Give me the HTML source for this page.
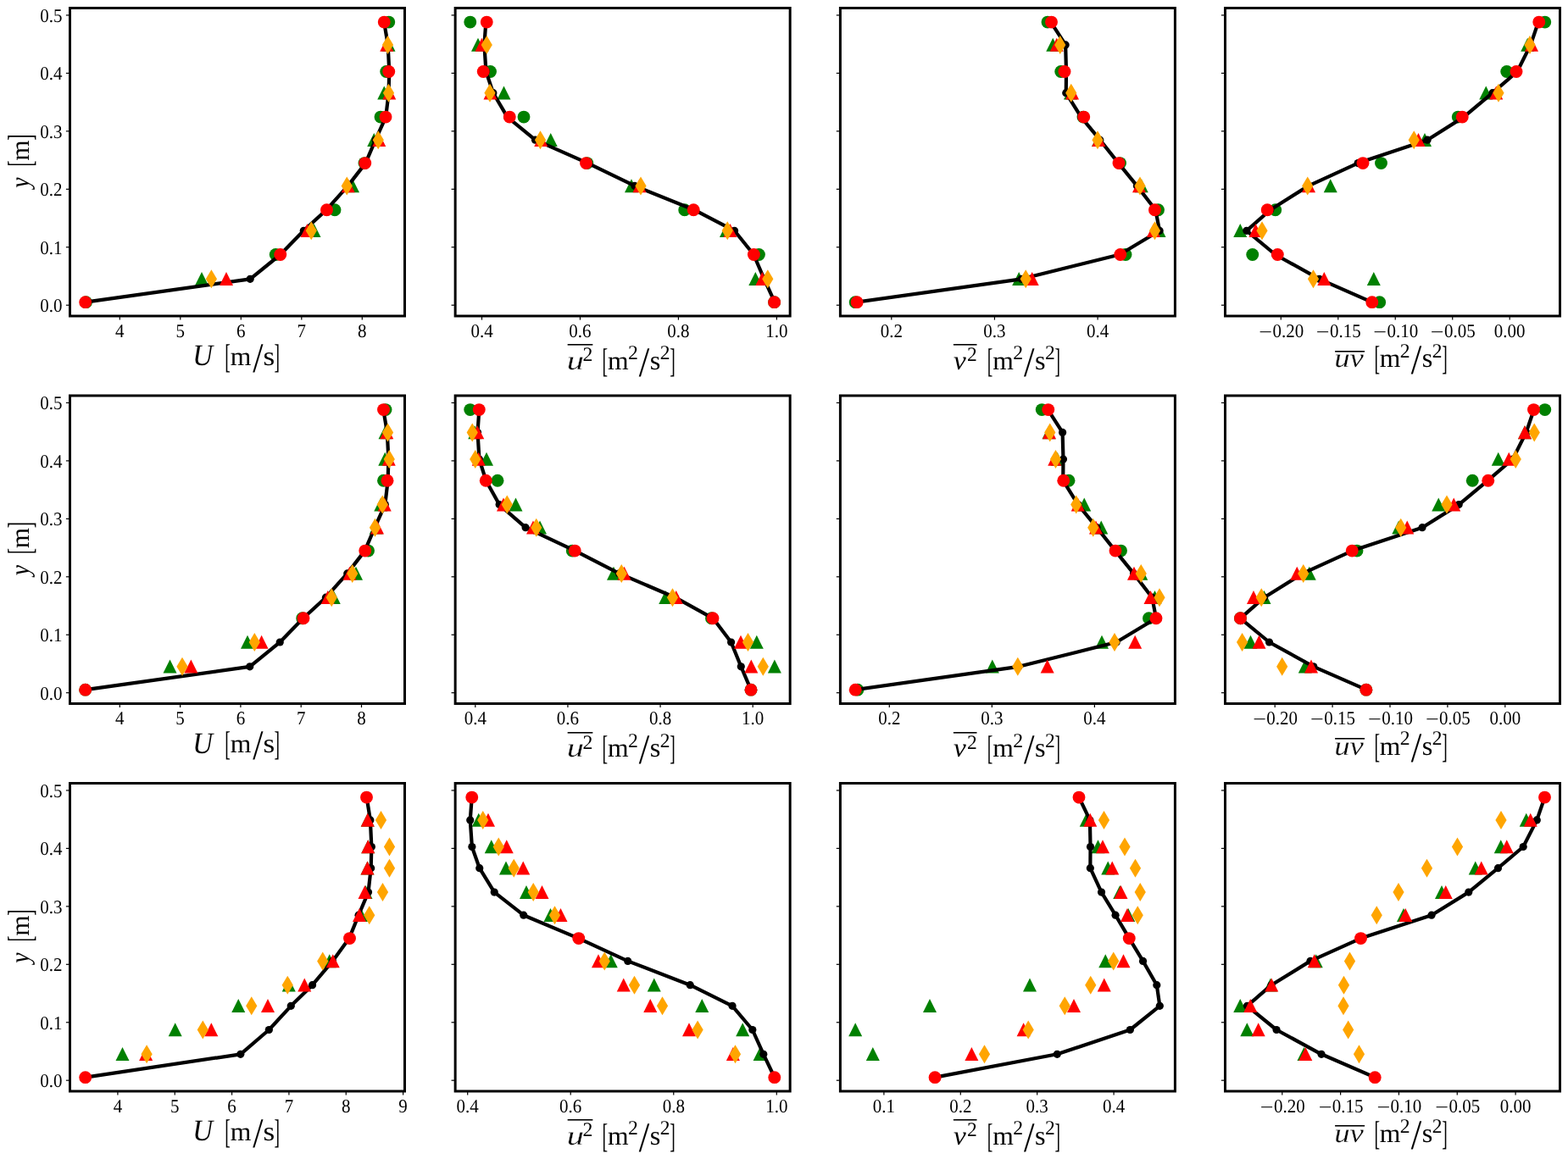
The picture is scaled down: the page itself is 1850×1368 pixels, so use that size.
<!DOCTYPE html>
<html lang="en">
<head>
<meta charset="utf-8">
<title>Profiles</title>
<style>
html,body{margin:0;padding:0;background:#fff;}
body{width:1850px;height:1368px;overflow:hidden;}
svg{display:block;}
text{font-family:"Liberation Serif","DejaVu Serif",serif;fill:#000;text-rendering:geometricPrecision;}
.tl{font-size:21px;}
.it{font-style:italic;}
.tk{stroke:#000;stroke-width:1.2;}
.ov{stroke:#000;stroke-width:1.4;}
.ln{fill:none;stroke:#000;stroke-width:4.2;stroke-linejoin:round;stroke-linecap:butt;}
.fr{fill:none;stroke:#000;stroke-width:3;}
</style>
</head>
<body>
<svg width="1850" height="1368" viewBox="0 0 1850 1368">
<rect x="0" y="0" width="1850" height="1368" fill="#fff"/>
<g>
<line x1="141.3" y1="373" x2="141.3" y2="377.6" class="tk"/>
<text transform="translate(141.3 397.7) scale(1 1.075)" class="tl" text-anchor="middle">4</text>
<line x1="212.8" y1="373" x2="212.8" y2="377.6" class="tk"/>
<text transform="translate(212.8 397.7) scale(1 1.075)" class="tl" text-anchor="middle">5</text>
<line x1="284.3" y1="373" x2="284.3" y2="377.6" class="tk"/>
<text transform="translate(284.3 397.7) scale(1 1.075)" class="tl" text-anchor="middle">6</text>
<line x1="355.8" y1="373" x2="355.8" y2="377.6" class="tk"/>
<text transform="translate(355.8 397.7) scale(1 1.075)" class="tl" text-anchor="middle">7</text>
<line x1="427.3" y1="373" x2="427.3" y2="377.6" class="tk"/>
<text transform="translate(427.3 397.7) scale(1 1.075)" class="tl" text-anchor="middle">8</text>
<line x1="77.9" y1="17.95" x2="82.5" y2="17.95" class="tk"/>
<text transform="translate(73.5 25.95) scale(1 1.075)" class="tl" text-anchor="end">0.5</text>
<line x1="77.9" y1="86.4" x2="82.5" y2="86.4" class="tk"/>
<text transform="translate(73.5 94.4) scale(1 1.075)" class="tl" text-anchor="end">0.4</text>
<line x1="77.9" y1="154.85" x2="82.5" y2="154.85" class="tk"/>
<text transform="translate(73.5 162.85) scale(1 1.075)" class="tl" text-anchor="end">0.3</text>
<line x1="77.9" y1="223.3" x2="82.5" y2="223.3" class="tk"/>
<text transform="translate(73.5 231.3) scale(1 1.075)" class="tl" text-anchor="end">0.2</text>
<line x1="77.9" y1="291.75" x2="82.5" y2="291.75" class="tk"/>
<text transform="translate(73.5 299.75) scale(1 1.075)" class="tl" text-anchor="end">0.1</text>
<line x1="77.9" y1="360.2" x2="82.5" y2="360.2" class="tk"/>
<text transform="translate(73.5 368.2) scale(1 1.075)" class="tl" text-anchor="end">0.0</text>
<circle cx="458.75" cy="26.1" r="7.45" fill="#008000"/>
<circle cx="455.75" cy="84.5" r="7.45" fill="#008000"/>
<circle cx="449" cy="138.1" r="7.45" fill="#008000"/>
<circle cx="430" cy="192.6" r="7.45" fill="#008000"/>
<circle cx="395" cy="247.7" r="7.45" fill="#008000"/>
<circle cx="325.25" cy="300.5" r="7.45" fill="#008000"/>
<circle cx="101.5" cy="356.65" r="7.45" fill="#008000"/>
<polygon points="458.5,44.7 450.5,60.7 466.5,60.7" fill="#008000"/>
<polygon points="453.25,101.5 445.25,117.5 461.25,117.5" fill="#008000"/>
<polygon points="441.25,157 433.25,173 449.25,173" fill="#008000"/>
<polygon points="416,211.2 408,227.2 424,227.2" fill="#008000"/>
<polygon points="370.5,264.1 362.5,280.1 378.5,280.1" fill="#008000"/>
<polygon points="238,321.1 230,337.1 246,337.1" fill="#008000"/>
<polyline points="453.18,26.1 457.69,52.9 459.26,84.5 458.55,109.7 455.19,138.1 443.03,165.2 431.23,192.6 410.5,219.4 385.12,247.7 358.3,272.3 330.78,300.5 295.17,329.3 100.76,356.65" class="ln"/>
<circle cx="453.18" cy="26.1" r="4.6" fill="#000"/>
<circle cx="457.69" cy="52.9" r="4.6" fill="#000"/>
<circle cx="459.26" cy="84.5" r="4.6" fill="#000"/>
<circle cx="458.55" cy="109.7" r="4.6" fill="#000"/>
<circle cx="455.19" cy="138.1" r="4.6" fill="#000"/>
<circle cx="443.03" cy="165.2" r="4.6" fill="#000"/>
<circle cx="431.23" cy="192.6" r="4.6" fill="#000"/>
<circle cx="410.5" cy="219.4" r="4.6" fill="#000"/>
<circle cx="385.12" cy="247.7" r="4.6" fill="#000"/>
<circle cx="358.3" cy="272.3" r="4.6" fill="#000"/>
<circle cx="330.78" cy="300.5" r="4.6" fill="#000"/>
<circle cx="295.17" cy="329.3" r="4.6" fill="#000"/>
<circle cx="100.76" cy="356.65" r="4.6" fill="#000"/>
<circle cx="453.25" cy="26.1" r="7.45" fill="#ff0000"/>
<circle cx="458.75" cy="84.5" r="7.45" fill="#ff0000"/>
<circle cx="455" cy="138.1" r="7.45" fill="#ff0000"/>
<circle cx="430.75" cy="192.6" r="7.45" fill="#ff0000"/>
<circle cx="385.5" cy="247.7" r="7.45" fill="#ff0000"/>
<circle cx="330.75" cy="300.5" r="7.45" fill="#ff0000"/>
<circle cx="100.7" cy="356.65" r="7.45" fill="#ff0000"/>
<polygon points="456.25,44.7 448.25,60.7 464.25,60.7" fill="#ff0000"/>
<polygon points="459.25,101.5 451.25,117.5 467.25,117.5" fill="#ff0000"/>
<polygon points="447.25,157 439.25,173 455.25,173" fill="#ff0000"/>
<polygon points="410.75,211.2 402.75,227.2 418.75,227.2" fill="#ff0000"/>
<polygon points="362.5,264.1 354.5,280.1 370.5,280.1" fill="#ff0000"/>
<polygon points="267,321.1 259,337.1 275,337.1" fill="#ff0000"/>
<polygon points="457.5,41.9 464.1,52.9 457.5,63.9 450.9,52.9" fill="#ffa500"/>
<polygon points="458.5,98.7 465.1,109.7 458.5,120.7 451.9,109.7" fill="#ffa500"/>
<polygon points="446.25,154.2 452.85,165.2 446.25,176.2 439.65,165.2" fill="#ffa500"/>
<polygon points="409.25,208.4 415.85,219.4 409.25,230.4 402.65,219.4" fill="#ffa500"/>
<polygon points="367.25,261.3 373.85,272.3 367.25,283.3 360.65,272.3" fill="#ffa500"/>
<polygon points="249.4,318.3 256,329.3 249.4,340.3 242.8,329.3" fill="#ffa500"/>
<rect x="82.5" y="9.5" width="395" height="363.5" class="fr"/>
<g><text transform="translate(227.15 431.24) scale(0.9900 1.0702)" font-size="33.3" class="it">U </text><text transform="translate(265.32 433.78) scale(0.5939 1.2048)" font-size="33.3">[</text><text transform="translate(271.67 430.8) scale(0.9504 0.9328)" font-size="33.3">m</text><text transform="translate(298.2 438.7) scale(1.3202 1.4925)" font-size="33.3">/</text><text transform="translate(310.59 430.88) scale(1.0571 0.9572)" font-size="33.3">s</text><text transform="translate(323.52 433.78) scale(0.5873 1.2048)" font-size="33.3">]</text></g>
<g><text transform="translate(33.8 191.25) rotate(-90) translate(-30.62 0.05) scale(0.8312 0.9565)" font-size="33.3" class="it">y </text><text transform="translate(33.8 191.25) rotate(-90) translate(-5.45 2.98) scale(0.6613 1.2048)" font-size="33.3">[</text><text transform="translate(33.8 191.25) rotate(-90) translate(1.58 0) scale(0.9383 0.9328)" font-size="33.3">m</text><text transform="translate(33.8 191.25) rotate(-90) translate(25.54 2.98) scale(0.6540 1.2048)" font-size="33.3">]</text></g>
</g>
<g>
<line x1="568.5" y1="373" x2="568.5" y2="377.6" class="tk"/>
<text transform="translate(568.5 397.7) scale(1 1.075)" class="tl" text-anchor="middle">0.4</text>
<line x1="684.47" y1="373" x2="684.47" y2="377.6" class="tk"/>
<text transform="translate(684.47 397.7) scale(1 1.075)" class="tl" text-anchor="middle">0.6</text>
<line x1="800.43" y1="373" x2="800.43" y2="377.6" class="tk"/>
<text transform="translate(800.43 397.7) scale(1 1.075)" class="tl" text-anchor="middle">0.8</text>
<line x1="916.4" y1="373" x2="916.4" y2="377.6" class="tk"/>
<text transform="translate(916.4 397.7) scale(1 1.075)" class="tl" text-anchor="middle">1.0</text>
<line x1="532.55" y1="17.95" x2="537.15" y2="17.95" class="tk"/>
<line x1="532.55" y1="86.4" x2="537.15" y2="86.4" class="tk"/>
<line x1="532.55" y1="154.85" x2="537.15" y2="154.85" class="tk"/>
<line x1="532.55" y1="223.3" x2="537.15" y2="223.3" class="tk"/>
<line x1="532.55" y1="291.75" x2="537.15" y2="291.75" class="tk"/>
<line x1="532.55" y1="360.2" x2="537.15" y2="360.2" class="tk"/>
<circle cx="554.75" cy="26.1" r="7.45" fill="#008000"/>
<circle cx="578.5" cy="84.5" r="7.45" fill="#008000"/>
<circle cx="618" cy="138.1" r="7.45" fill="#008000"/>
<circle cx="692.75" cy="192.6" r="7.45" fill="#008000"/>
<circle cx="807.75" cy="247.7" r="7.45" fill="#008000"/>
<circle cx="895.4" cy="300.5" r="7.45" fill="#008000"/>
<circle cx="913.6" cy="356.65" r="7.45" fill="#008000"/>
<polygon points="564,44.7 556,60.7 572,60.7" fill="#008000"/>
<polygon points="594.5,101.5 586.5,117.5 602.5,117.5" fill="#008000"/>
<polygon points="649.75,157 641.75,173 657.75,173" fill="#008000"/>
<polygon points="745,211.2 737,227.2 753,227.2" fill="#008000"/>
<polygon points="857,264.1 849,280.1 865,280.1" fill="#008000"/>
<polygon points="891.3,321.1 883.3,337.1 899.3,337.1" fill="#008000"/>
<polyline points="573.31,26.1 571.4,52.9 573.43,84.5 581.89,109.7 598.59,138.1 631.53,165.2 693.57,192.6 748.89,219.4 819.05,247.7 866.53,272.3 889.21,300.5 901.61,329.3 914.02,356.65" class="ln"/>
<circle cx="573.31" cy="26.1" r="4.6" fill="#000"/>
<circle cx="571.4" cy="52.9" r="4.6" fill="#000"/>
<circle cx="573.43" cy="84.5" r="4.6" fill="#000"/>
<circle cx="581.89" cy="109.7" r="4.6" fill="#000"/>
<circle cx="598.59" cy="138.1" r="4.6" fill="#000"/>
<circle cx="631.53" cy="165.2" r="4.6" fill="#000"/>
<circle cx="693.57" cy="192.6" r="4.6" fill="#000"/>
<circle cx="748.89" cy="219.4" r="4.6" fill="#000"/>
<circle cx="819.05" cy="247.7" r="4.6" fill="#000"/>
<circle cx="866.53" cy="272.3" r="4.6" fill="#000"/>
<circle cx="889.21" cy="300.5" r="4.6" fill="#000"/>
<circle cx="901.61" cy="329.3" r="4.6" fill="#000"/>
<circle cx="914.02" cy="356.65" r="4.6" fill="#000"/>
<circle cx="574.25" cy="26.1" r="7.45" fill="#ff0000"/>
<circle cx="570.25" cy="84.5" r="7.45" fill="#ff0000"/>
<circle cx="601.25" cy="138.1" r="7.45" fill="#ff0000"/>
<circle cx="691.5" cy="192.6" r="7.45" fill="#ff0000"/>
<circle cx="818.25" cy="247.7" r="7.45" fill="#ff0000"/>
<circle cx="889.4" cy="300.5" r="7.45" fill="#ff0000"/>
<circle cx="913.6" cy="356.65" r="7.45" fill="#ff0000"/>
<polygon points="568.5,44.7 560.5,60.7 576.5,60.7" fill="#ff0000"/>
<polygon points="578.5,101.5 570.5,117.5 586.5,117.5" fill="#ff0000"/>
<polygon points="638.25,157 630.25,173 646.25,173" fill="#ff0000"/>
<polygon points="754.5,211.2 746.5,227.2 762.5,227.2" fill="#ff0000"/>
<polygon points="861.5,264.1 853.5,280.1 869.5,280.1" fill="#ff0000"/>
<polygon points="899.3,321.1 891.3,337.1 907.3,337.1" fill="#ff0000"/>
<polygon points="574.25,41.9 580.85,52.9 574.25,63.9 567.65,52.9" fill="#ffa500"/>
<polygon points="578,98.7 584.6,109.7 578,120.7 571.4,109.7" fill="#ffa500"/>
<polygon points="637.5,154.2 644.1,165.2 637.5,176.2 630.9,165.2" fill="#ffa500"/>
<polygon points="756,208.4 762.6,219.4 756,230.4 749.4,219.4" fill="#ffa500"/>
<polygon points="858.25,261.3 864.85,272.3 858.25,283.3 851.65,272.3" fill="#ffa500"/>
<polygon points="905.8,318.3 912.4,329.3 905.8,340.3 899.2,329.3" fill="#ffa500"/>
<rect x="537.15" y="9.5" width="395" height="363.5" class="fr"/>
<rect x="669.65" y="406" width="29.7" height="1.6" fill="#000"/>
<g><text transform="translate(668.73 435.51) scale(1.2158 0.9470)" font-size="33.3" class="it" stroke="#fff" stroke-width="0.3">u</text><text transform="translate(687.48 426.1) scale(0.7132 0.7117)" font-size="33.3">2 </text><text transform="translate(710.57 438.58) scale(0.5939 1.2048)" font-size="33.3">[</text><text transform="translate(716.92 435.6) scale(0.9504 0.9328)" font-size="33.3">m</text><text transform="translate(740.88 424) scale(0.7132 0.7207)" font-size="33.3">2</text><text transform="translate(753.75 443.5) scale(1.3527 1.4925)" font-size="33.3">/</text><text transform="translate(766.86 435.68) scale(0.9706 0.9572)" font-size="33.3">s</text><text transform="translate(778.69 424) scale(0.7057 0.7207)" font-size="33.3">2</text><text transform="translate(790.27 438.58) scale(0.5873 1.2048)" font-size="33.3">]</text></g>
</g>
<g>
<line x1="1051.8" y1="373" x2="1051.8" y2="377.6" class="tk"/>
<text transform="translate(1051.8 397.7) scale(1 1.075)" class="tl" text-anchor="middle">0.2</text>
<line x1="1173.45" y1="373" x2="1173.45" y2="377.6" class="tk"/>
<text transform="translate(1173.45 397.7) scale(1 1.075)" class="tl" text-anchor="middle">0.3</text>
<line x1="1295.1" y1="373" x2="1295.1" y2="377.6" class="tk"/>
<text transform="translate(1295.1 397.7) scale(1 1.075)" class="tl" text-anchor="middle">0.4</text>
<line x1="986.8" y1="17.95" x2="991.4" y2="17.95" class="tk"/>
<line x1="986.8" y1="86.4" x2="991.4" y2="86.4" class="tk"/>
<line x1="986.8" y1="154.85" x2="991.4" y2="154.85" class="tk"/>
<line x1="986.8" y1="223.3" x2="991.4" y2="223.3" class="tk"/>
<line x1="986.8" y1="291.75" x2="991.4" y2="291.75" class="tk"/>
<line x1="986.8" y1="360.2" x2="991.4" y2="360.2" class="tk"/>
<circle cx="1236" cy="26.1" r="7.45" fill="#008000"/>
<circle cx="1251.75" cy="84.5" r="7.45" fill="#008000"/>
<circle cx="1278" cy="138.1" r="7.45" fill="#008000"/>
<circle cx="1321.5" cy="192.6" r="7.45" fill="#008000"/>
<circle cx="1366.5" cy="247.7" r="7.45" fill="#008000"/>
<circle cx="1328" cy="300.5" r="7.45" fill="#008000"/>
<circle cx="1009.2" cy="356.65" r="7.45" fill="#008000"/>
<polygon points="1242.25,44.7 1234.25,60.7 1250.25,60.7" fill="#008000"/>
<polygon points="1263,101.5 1255,117.5 1271,117.5" fill="#008000"/>
<polygon points="1296,157 1288,173 1304,173" fill="#008000"/>
<polygon points="1346.75,211.2 1338.75,227.2 1354.75,227.2" fill="#008000"/>
<polygon points="1367.5,264.1 1359.5,280.1 1375.5,280.1" fill="#008000"/>
<polygon points="1202.2,321.1 1194.2,337.1 1210.2,337.1" fill="#008000"/>
<polyline points="1239.87,26.1 1257.15,52.9 1258,84.5 1257.75,109.7 1275.51,138.1 1297.78,165.2 1319.67,192.6 1341.45,219.4 1363.35,247.7 1368.09,272.3 1321.01,300.5 1205.2,329.3 1011.17,356.65" class="ln"/>
<circle cx="1239.87" cy="26.1" r="4.6" fill="#000"/>
<circle cx="1257.15" cy="52.9" r="4.6" fill="#000"/>
<circle cx="1258" cy="84.5" r="4.6" fill="#000"/>
<circle cx="1257.75" cy="109.7" r="4.6" fill="#000"/>
<circle cx="1275.51" cy="138.1" r="4.6" fill="#000"/>
<circle cx="1297.78" cy="165.2" r="4.6" fill="#000"/>
<circle cx="1319.67" cy="192.6" r="4.6" fill="#000"/>
<circle cx="1341.45" cy="219.4" r="4.6" fill="#000"/>
<circle cx="1363.35" cy="247.7" r="4.6" fill="#000"/>
<circle cx="1368.09" cy="272.3" r="4.6" fill="#000"/>
<circle cx="1321.01" cy="300.5" r="4.6" fill="#000"/>
<circle cx="1205.2" cy="329.3" r="4.6" fill="#000"/>
<circle cx="1011.17" cy="356.65" r="4.6" fill="#000"/>
<circle cx="1240.5" cy="26.1" r="7.45" fill="#ff0000"/>
<circle cx="1256" cy="84.5" r="7.45" fill="#ff0000"/>
<circle cx="1278.75" cy="138.1" r="7.45" fill="#ff0000"/>
<circle cx="1320" cy="192.6" r="7.45" fill="#ff0000"/>
<circle cx="1362.5" cy="247.7" r="7.45" fill="#ff0000"/>
<circle cx="1321.8" cy="300.5" r="7.45" fill="#ff0000"/>
<circle cx="1011.1" cy="356.65" r="7.45" fill="#ff0000"/>
<polygon points="1246.75,44.7 1238.75,60.7 1254.75,60.7" fill="#ff0000"/>
<polygon points="1265,101.5 1257,117.5 1273,117.5" fill="#ff0000"/>
<polygon points="1296.25,157 1288.25,173 1304.25,173" fill="#ff0000"/>
<polygon points="1344,211.2 1336,227.2 1352,227.2" fill="#ff0000"/>
<polygon points="1361,264.1 1353,280.1 1369,280.1" fill="#ff0000"/>
<polygon points="1217.7,321.1 1209.7,337.1 1225.7,337.1" fill="#ff0000"/>
<polygon points="1250.75,41.9 1257.35,52.9 1250.75,63.9 1244.15,52.9" fill="#ffa500"/>
<polygon points="1263.75,98.7 1270.35,109.7 1263.75,120.7 1257.15,109.7" fill="#ffa500"/>
<polygon points="1295,154.2 1301.6,165.2 1295,176.2 1288.4,165.2" fill="#ffa500"/>
<polygon points="1345,208.4 1351.6,219.4 1345,230.4 1338.4,219.4" fill="#ffa500"/>
<polygon points="1362.5,261.3 1369.1,272.3 1362.5,283.3 1355.9,272.3" fill="#ffa500"/>
<polygon points="1210.2,318.3 1216.8,329.3 1210.2,340.3 1203.6,329.3" fill="#ffa500"/>
<rect x="991.4" y="9.5" width="395" height="363.5" class="fr"/>
<rect x="1124.9" y="406" width="27.6" height="1.6" fill="#000"/>
<g><text transform="translate(1125.1 435.58) scale(0.9987 0.9520)" font-size="33.3" class="it">v</text><text transform="translate(1141.04 426.1) scale(0.7057 0.7117)" font-size="33.3">2 </text><text transform="translate(1164.82 438.58) scale(0.5939 1.2048)" font-size="33.3">[</text><text transform="translate(1171.17 435.6) scale(0.9504 0.9328)" font-size="33.3">m</text><text transform="translate(1195.13 424) scale(0.7132 0.7207)" font-size="33.3">2</text><text transform="translate(1208 443.5) scale(1.3527 1.4925)" font-size="33.3">/</text><text transform="translate(1221.11 435.68) scale(0.9706 0.9572)" font-size="33.3">s</text><text transform="translate(1232.94 424) scale(0.7057 0.7207)" font-size="33.3">2</text><text transform="translate(1244.52 438.58) scale(0.5873 1.2048)" font-size="33.3">]</text></g>
</g>
<g>
<line x1="1511.3" y1="373" x2="1511.3" y2="377.6" class="tk"/>
<g><text transform="translate(1485.3 398.86) scale(1.3313 1.0476)" font-size="21">−</text><text transform="translate(1538.2 397.7) scale(1 1.075)" class="tl" text-anchor="end">0.20</text></g>
<line x1="1578.78" y1="373" x2="1578.78" y2="377.6" class="tk"/>
<g><text transform="translate(1552.78 398.86) scale(1.3313 1.0476)" font-size="21">−</text><text transform="translate(1605.68 397.7) scale(1 1.075)" class="tl" text-anchor="end">0.15</text></g>
<line x1="1646.25" y1="373" x2="1646.25" y2="377.6" class="tk"/>
<g><text transform="translate(1620.25 398.86) scale(1.3313 1.0476)" font-size="21">−</text><text transform="translate(1673.15 397.7) scale(1 1.075)" class="tl" text-anchor="end">0.10</text></g>
<line x1="1713.73" y1="373" x2="1713.73" y2="377.6" class="tk"/>
<g><text transform="translate(1687.73 398.86) scale(1.3313 1.0476)" font-size="21">−</text><text transform="translate(1740.63 397.7) scale(1 1.075)" class="tl" text-anchor="end">0.05</text></g>
<line x1="1781.2" y1="373" x2="1781.2" y2="377.6" class="tk"/>
<text transform="translate(1781.2 397.7) scale(1 1.075)" class="tl" text-anchor="middle">0.00</text>
<line x1="1440.9" y1="17.95" x2="1445.5" y2="17.95" class="tk"/>
<line x1="1440.9" y1="86.4" x2="1445.5" y2="86.4" class="tk"/>
<line x1="1440.9" y1="154.85" x2="1445.5" y2="154.85" class="tk"/>
<line x1="1440.9" y1="223.3" x2="1445.5" y2="223.3" class="tk"/>
<line x1="1440.9" y1="291.75" x2="1445.5" y2="291.75" class="tk"/>
<line x1="1440.9" y1="360.2" x2="1445.5" y2="360.2" class="tk"/>
<circle cx="1822.75" cy="26.1" r="7.45" fill="#008000"/>
<circle cx="1777.75" cy="84.5" r="7.45" fill="#008000"/>
<circle cx="1720.25" cy="138.1" r="7.45" fill="#008000"/>
<circle cx="1629.5" cy="192.6" r="7.45" fill="#008000"/>
<circle cx="1504.75" cy="247.7" r="7.45" fill="#008000"/>
<circle cx="1477.75" cy="300.5" r="7.45" fill="#008000"/>
<circle cx="1627.7" cy="356.65" r="7.45" fill="#008000"/>
<polygon points="1802.25,44.7 1794.25,60.7 1810.25,60.7" fill="#008000"/>
<polygon points="1753.25,101.5 1745.25,117.5 1761.25,117.5" fill="#008000"/>
<polygon points="1681,157 1673,173 1689,173" fill="#008000"/>
<polygon points="1569.75,211.2 1561.75,227.2 1577.75,227.2" fill="#008000"/>
<polygon points="1463.25,264.1 1455.25,280.1 1471.25,280.1" fill="#008000"/>
<polygon points="1620.8,321.1 1612.8,337.1 1628.8,337.1" fill="#008000"/>
<polyline points="1814.94,26.1 1805.9,52.9 1790.11,84.5 1760.96,109.7 1726.95,138.1 1684.04,165.2 1602.12,192.6 1543.82,219.4 1498.75,247.7 1470.82,272.3 1504.69,300.5 1556.64,329.3 1618.59,356.65" class="ln"/>
<circle cx="1814.94" cy="26.1" r="4.6" fill="#000"/>
<circle cx="1805.9" cy="52.9" r="4.6" fill="#000"/>
<circle cx="1790.11" cy="84.5" r="4.6" fill="#000"/>
<circle cx="1760.96" cy="109.7" r="4.6" fill="#000"/>
<circle cx="1726.95" cy="138.1" r="4.6" fill="#000"/>
<circle cx="1684.04" cy="165.2" r="4.6" fill="#000"/>
<circle cx="1602.12" cy="192.6" r="4.6" fill="#000"/>
<circle cx="1543.82" cy="219.4" r="4.6" fill="#000"/>
<circle cx="1498.75" cy="247.7" r="4.6" fill="#000"/>
<circle cx="1470.82" cy="272.3" r="4.6" fill="#000"/>
<circle cx="1504.69" cy="300.5" r="4.6" fill="#000"/>
<circle cx="1556.64" cy="329.3" r="4.6" fill="#000"/>
<circle cx="1618.59" cy="356.65" r="4.6" fill="#000"/>
<circle cx="1815.75" cy="26.1" r="7.45" fill="#ff0000"/>
<circle cx="1789" cy="84.5" r="7.45" fill="#ff0000"/>
<circle cx="1725.25" cy="138.1" r="7.45" fill="#ff0000"/>
<circle cx="1608" cy="192.6" r="7.45" fill="#ff0000"/>
<circle cx="1495.25" cy="247.7" r="7.45" fill="#ff0000"/>
<circle cx="1507.3" cy="300.5" r="7.45" fill="#ff0000"/>
<circle cx="1618.8" cy="356.65" r="7.45" fill="#ff0000"/>
<polygon points="1807,44.7 1799,60.7 1815,60.7" fill="#ff0000"/>
<polygon points="1765.25,101.5 1757.25,117.5 1773.25,117.5" fill="#ff0000"/>
<polygon points="1673.5,157 1665.5,173 1681.5,173" fill="#ff0000"/>
<polygon points="1544,211.2 1536,227.2 1552,227.2" fill="#ff0000"/>
<polygon points="1481.5,264.1 1473.5,280.1 1489.5,280.1" fill="#ff0000"/>
<polygon points="1562.3,321.1 1554.3,337.1 1570.3,337.1" fill="#ff0000"/>
<polygon points="1805,41.9 1811.6,52.9 1805,63.9 1798.4,52.9" fill="#ffa500"/>
<polygon points="1768,98.7 1774.6,109.7 1768,120.7 1761.4,109.7" fill="#ffa500"/>
<polygon points="1668.25,154.2 1674.85,165.2 1668.25,176.2 1661.65,165.2" fill="#ffa500"/>
<polygon points="1542.75,208.4 1549.35,219.4 1542.75,230.4 1536.15,219.4" fill="#ffa500"/>
<polygon points="1489,261.3 1495.6,272.3 1489,283.3 1482.4,272.3" fill="#ffa500"/>
<polygon points="1549.5,318.3 1556.1,329.3 1549.5,340.3 1542.9,329.3" fill="#ffa500"/>
<rect x="1445.5" y="9.5" width="395" height="363.5" class="fr"/>
<rect x="1575.1" y="414" width="35" height="1.6" fill="#000"/>
<g><text transform="translate(1574.16 433.21) scale(1.1073 0.9470)" font-size="33.3" class="it" stroke="#fff" stroke-width="0.3">uv </text><text transform="translate(1621.52 436.28) scale(0.5939 1.2048)" font-size="33.3">[</text><text transform="translate(1627.87 433.3) scale(0.9504 0.9328)" font-size="33.3">m</text><text transform="translate(1651.83 421.7) scale(0.7132 0.7207)" font-size="33.3">2</text><text transform="translate(1664.7 441.2) scale(1.3527 1.4925)" font-size="33.3">/</text><text transform="translate(1677.81 433.38) scale(0.9706 0.9572)" font-size="33.3">s</text><text transform="translate(1689.64 421.7) scale(0.7057 0.7207)" font-size="33.3">2</text><text transform="translate(1701.22 436.28) scale(0.5873 1.2048)" font-size="33.3">]</text></g>
</g>
<g>
<line x1="141.3" y1="830.5" x2="141.3" y2="835.1" class="tk"/>
<text transform="translate(141.3 855.2) scale(1 1.075)" class="tl" text-anchor="middle">4</text>
<line x1="212.6" y1="830.5" x2="212.6" y2="835.1" class="tk"/>
<text transform="translate(212.6 855.2) scale(1 1.075)" class="tl" text-anchor="middle">5</text>
<line x1="283.9" y1="830.5" x2="283.9" y2="835.1" class="tk"/>
<text transform="translate(283.9 855.2) scale(1 1.075)" class="tl" text-anchor="middle">6</text>
<line x1="355.2" y1="830.5" x2="355.2" y2="835.1" class="tk"/>
<text transform="translate(355.2 855.2) scale(1 1.075)" class="tl" text-anchor="middle">7</text>
<line x1="426.5" y1="830.5" x2="426.5" y2="835.1" class="tk"/>
<text transform="translate(426.5 855.2) scale(1 1.075)" class="tl" text-anchor="middle">8</text>
<line x1="77.9" y1="475.45" x2="82.5" y2="475.45" class="tk"/>
<text transform="translate(73.5 483.45) scale(1 1.075)" class="tl" text-anchor="end">0.5</text>
<line x1="77.9" y1="543.9" x2="82.5" y2="543.9" class="tk"/>
<text transform="translate(73.5 551.9) scale(1 1.075)" class="tl" text-anchor="end">0.4</text>
<line x1="77.9" y1="612.35" x2="82.5" y2="612.35" class="tk"/>
<text transform="translate(73.5 620.35) scale(1 1.075)" class="tl" text-anchor="end">0.3</text>
<line x1="77.9" y1="680.8" x2="82.5" y2="680.8" class="tk"/>
<text transform="translate(73.5 688.8) scale(1 1.075)" class="tl" text-anchor="end">0.2</text>
<line x1="77.9" y1="749.25" x2="82.5" y2="749.25" class="tk"/>
<text transform="translate(73.5 757.25) scale(1 1.075)" class="tl" text-anchor="end">0.1</text>
<line x1="77.9" y1="817.7" x2="82.5" y2="817.7" class="tk"/>
<text transform="translate(73.5 825.7) scale(1 1.075)" class="tl" text-anchor="end">0.0</text>
<circle cx="455" cy="483.6" r="7.45" fill="#008000"/>
<circle cx="452.5" cy="567.2" r="7.45" fill="#008000"/>
<circle cx="434.5" cy="650.1" r="7.45" fill="#008000"/>
<circle cx="356.75" cy="729.8" r="7.45" fill="#008000"/>
<circle cx="100.7" cy="814.15" r="7.45" fill="#008000"/>
<polygon points="454.5,502.2 446.5,518.2 462.5,518.2" fill="#008000"/>
<polygon points="454.25,533.8 446.25,549.8 462.25,549.8" fill="#008000"/>
<polygon points="449.25,587.4 441.25,603.4 457.25,603.4" fill="#008000"/>
<polygon points="443.75,614.5 435.75,630.5 451.75,630.5" fill="#008000"/>
<polygon points="420,668.7 412,684.7 428,684.7" fill="#008000"/>
<polygon points="393.75,697 385.75,713 401.75,713" fill="#008000"/>
<polygon points="292,749.8 284,765.8 300,765.8" fill="#008000"/>
<polygon points="200.5,778.6 192.5,794.6 208.5,794.6" fill="#008000"/>
<polyline points="452.31,483.6 456.8,510.4 458.37,542 457.66,567.2 454.31,595.6 442.19,622.7 430.42,650.1 409.74,676.9 384.43,705.2 357.7,729.8 330.25,758 294.74,786.8 100.87,814.15" class="ln"/>
<circle cx="452.31" cy="483.6" r="4.6" fill="#000"/>
<circle cx="456.8" cy="510.4" r="4.6" fill="#000"/>
<circle cx="458.37" cy="542" r="4.6" fill="#000"/>
<circle cx="457.66" cy="567.2" r="4.6" fill="#000"/>
<circle cx="454.31" cy="595.6" r="4.6" fill="#000"/>
<circle cx="442.19" cy="622.7" r="4.6" fill="#000"/>
<circle cx="430.42" cy="650.1" r="4.6" fill="#000"/>
<circle cx="409.74" cy="676.9" r="4.6" fill="#000"/>
<circle cx="384.43" cy="705.2" r="4.6" fill="#000"/>
<circle cx="357.7" cy="729.8" r="4.6" fill="#000"/>
<circle cx="330.25" cy="758" r="4.6" fill="#000"/>
<circle cx="294.74" cy="786.8" r="4.6" fill="#000"/>
<circle cx="100.87" cy="814.15" r="4.6" fill="#000"/>
<circle cx="452.5" cy="483.6" r="7.45" fill="#ff0000"/>
<circle cx="457" cy="567.2" r="7.45" fill="#ff0000"/>
<circle cx="430.75" cy="650.1" r="7.45" fill="#ff0000"/>
<circle cx="358" cy="729.8" r="7.45" fill="#ff0000"/>
<circle cx="100.7" cy="814.15" r="7.45" fill="#ff0000"/>
<polygon points="456.25,502.2 448.25,518.2 464.25,518.2" fill="#ff0000"/>
<polygon points="458.75,533.8 450.75,549.8 466.75,549.8" fill="#ff0000"/>
<polygon points="453.75,587.4 445.75,603.4 461.75,603.4" fill="#ff0000"/>
<polygon points="445,614.5 437,630.5 453,630.5" fill="#ff0000"/>
<polygon points="412.5,668.7 404.5,684.7 420.5,684.7" fill="#ff0000"/>
<polygon points="386.75,697 378.75,713 394.75,713" fill="#ff0000"/>
<polygon points="308.6,749.8 300.6,765.8 316.6,765.8" fill="#ff0000"/>
<polygon points="225.4,778.6 217.4,794.6 233.4,794.6" fill="#ff0000"/>
<polygon points="457.5,499.4 464.1,510.4 457.5,521.4 450.9,510.4" fill="#ffa500"/>
<polygon points="459.25,531 465.85,542 459.25,553 452.65,542" fill="#ffa500"/>
<polygon points="451.25,584.6 457.85,595.6 451.25,606.6 444.65,595.6" fill="#ffa500"/>
<polygon points="442.5,611.7 449.1,622.7 442.5,633.7 435.9,622.7" fill="#ffa500"/>
<polygon points="415.75,665.9 422.35,676.9 415.75,687.9 409.15,676.9" fill="#ffa500"/>
<polygon points="391.25,694.2 397.85,705.2 391.25,716.2 384.65,705.2" fill="#ffa500"/>
<polygon points="300.3,747 306.9,758 300.3,769 293.7,758" fill="#ffa500"/>
<polygon points="215,775.8 221.6,786.8 215,797.8 208.4,786.8" fill="#ffa500"/>
<rect x="82.5" y="467" width="395" height="363.5" class="fr"/>
<g><text transform="translate(227.15 888.74) scale(0.9900 1.0702)" font-size="33.3" class="it">U </text><text transform="translate(265.32 891.28) scale(0.5939 1.2048)" font-size="33.3">[</text><text transform="translate(271.67 888.3) scale(0.9504 0.9328)" font-size="33.3">m</text><text transform="translate(298.2 896.2) scale(1.3202 1.4925)" font-size="33.3">/</text><text transform="translate(310.59 888.38) scale(1.0571 0.9572)" font-size="33.3">s</text><text transform="translate(323.52 891.28) scale(0.5873 1.2048)" font-size="33.3">]</text></g>
<g><text transform="translate(33.8 648.75) rotate(-90) translate(-30.62 0.05) scale(0.8312 0.9565)" font-size="33.3" class="it">y </text><text transform="translate(33.8 648.75) rotate(-90) translate(-5.45 2.98) scale(0.6613 1.2048)" font-size="33.3">[</text><text transform="translate(33.8 648.75) rotate(-90) translate(1.58 0) scale(0.9383 0.9328)" font-size="33.3">m</text><text transform="translate(33.8 648.75) rotate(-90) translate(25.54 2.98) scale(0.6540 1.2048)" font-size="33.3">]</text></g>
</g>
<g>
<line x1="560.8" y1="830.5" x2="560.8" y2="835.1" class="tk"/>
<text transform="translate(560.8 855.2) scale(1 1.075)" class="tl" text-anchor="middle">0.4</text>
<line x1="669.93" y1="830.5" x2="669.93" y2="835.1" class="tk"/>
<text transform="translate(669.93 855.2) scale(1 1.075)" class="tl" text-anchor="middle">0.6</text>
<line x1="779.07" y1="830.5" x2="779.07" y2="835.1" class="tk"/>
<text transform="translate(779.07 855.2) scale(1 1.075)" class="tl" text-anchor="middle">0.8</text>
<line x1="888.2" y1="830.5" x2="888.2" y2="835.1" class="tk"/>
<text transform="translate(888.2 855.2) scale(1 1.075)" class="tl" text-anchor="middle">1.0</text>
<line x1="532.55" y1="475.45" x2="537.15" y2="475.45" class="tk"/>
<line x1="532.55" y1="543.9" x2="537.15" y2="543.9" class="tk"/>
<line x1="532.55" y1="612.35" x2="537.15" y2="612.35" class="tk"/>
<line x1="532.55" y1="680.8" x2="537.15" y2="680.8" class="tk"/>
<line x1="532.55" y1="749.25" x2="537.15" y2="749.25" class="tk"/>
<line x1="532.55" y1="817.7" x2="537.15" y2="817.7" class="tk"/>
<circle cx="554.75" cy="483.6" r="7.45" fill="#008000"/>
<circle cx="587" cy="567.2" r="7.45" fill="#008000"/>
<circle cx="675.25" cy="650.1" r="7.45" fill="#008000"/>
<circle cx="839.5" cy="729.8" r="7.45" fill="#008000"/>
<circle cx="886" cy="814.15" r="7.45" fill="#008000"/>
<polygon points="560.25,502.2 552.25,518.2 568.25,518.2" fill="#008000"/>
<polygon points="574,533.8 566,549.8 582,549.8" fill="#008000"/>
<polygon points="608.5,587.4 600.5,603.4 616.5,603.4" fill="#008000"/>
<polygon points="637,614.5 629,630.5 645,630.5" fill="#008000"/>
<polygon points="724,668.7 716,684.7 732,684.7" fill="#008000"/>
<polygon points="785.25,697 777.25,713 793.25,713" fill="#008000"/>
<polygon points="892.8,749.8 884.8,765.8 900.8,765.8" fill="#008000"/>
<polygon points="913.9,778.6 905.9,794.6 921.9,794.6" fill="#008000"/>
<polyline points="565.33,483.6 563.53,510.4 565.44,542 573.4,567.2 589.12,595.6 620.11,622.7 678.5,650.1 730.56,676.9 796.58,705.2 841.27,729.8 862.61,758 874.29,786.8 885.96,814.15" class="ln"/>
<circle cx="565.33" cy="483.6" r="4.6" fill="#000"/>
<circle cx="563.53" cy="510.4" r="4.6" fill="#000"/>
<circle cx="565.44" cy="542" r="4.6" fill="#000"/>
<circle cx="573.4" cy="567.2" r="4.6" fill="#000"/>
<circle cx="589.12" cy="595.6" r="4.6" fill="#000"/>
<circle cx="620.11" cy="622.7" r="4.6" fill="#000"/>
<circle cx="678.5" cy="650.1" r="4.6" fill="#000"/>
<circle cx="730.56" cy="676.9" r="4.6" fill="#000"/>
<circle cx="796.58" cy="705.2" r="4.6" fill="#000"/>
<circle cx="841.27" cy="729.8" r="4.6" fill="#000"/>
<circle cx="862.61" cy="758" r="4.6" fill="#000"/>
<circle cx="874.29" cy="786.8" r="4.6" fill="#000"/>
<circle cx="885.96" cy="814.15" r="4.6" fill="#000"/>
<circle cx="565.25" cy="483.6" r="7.45" fill="#ff0000"/>
<circle cx="573.25" cy="567.2" r="7.45" fill="#ff0000"/>
<circle cx="678.25" cy="650.1" r="7.45" fill="#ff0000"/>
<circle cx="841" cy="729.8" r="7.45" fill="#ff0000"/>
<circle cx="886" cy="814.15" r="7.45" fill="#ff0000"/>
<polygon points="563.25,502.2 555.25,518.2 571.25,518.2" fill="#ff0000"/>
<polygon points="564.75,533.8 556.75,549.8 572.75,549.8" fill="#ff0000"/>
<polygon points="594,587.4 586,603.4 602,603.4" fill="#ff0000"/>
<polygon points="629,614.5 621,630.5 637,630.5" fill="#ff0000"/>
<polygon points="736.5,668.7 728.5,684.7 744.5,684.7" fill="#ff0000"/>
<polygon points="797.75,697 789.75,713 805.75,713" fill="#ff0000"/>
<polygon points="874,749.8 866,765.8 882,765.8" fill="#ff0000"/>
<polygon points="886.3,778.6 878.3,794.6 894.3,794.6" fill="#ff0000"/>
<polygon points="557.25,499.4 563.85,510.4 557.25,521.4 550.65,510.4" fill="#ffa500"/>
<polygon points="560.75,531 567.35,542 560.75,553 554.15,542" fill="#ffa500"/>
<polygon points="598.25,584.6 604.85,595.6 598.25,606.6 591.65,595.6" fill="#ffa500"/>
<polygon points="632.75,611.7 639.35,622.7 632.75,633.7 626.15,622.7" fill="#ffa500"/>
<polygon points="733.25,665.9 739.85,676.9 733.25,687.9 726.65,676.9" fill="#ffa500"/>
<polygon points="793.5,694.2 800.1,705.2 793.5,716.2 786.9,705.2" fill="#ffa500"/>
<polygon points="882.5,747 889.1,758 882.5,769 875.9,758" fill="#ffa500"/>
<polygon points="900.3,775.8 906.9,786.8 900.3,797.8 893.7,786.8" fill="#ffa500"/>
<rect x="537.15" y="467" width="395" height="363.5" class="fr"/>
<rect x="669.65" y="864" width="29.7" height="1.6" fill="#000"/>
<g><text transform="translate(668.73 893.01) scale(1.2158 0.9470)" font-size="33.3" class="it" stroke="#fff" stroke-width="0.3">u</text><text transform="translate(687.48 883.6) scale(0.7132 0.7117)" font-size="33.3">2 </text><text transform="translate(710.57 896.08) scale(0.5939 1.2048)" font-size="33.3">[</text><text transform="translate(716.92 893.1) scale(0.9504 0.9328)" font-size="33.3">m</text><text transform="translate(740.88 881.5) scale(0.7132 0.7207)" font-size="33.3">2</text><text transform="translate(753.75 901) scale(1.3527 1.4925)" font-size="33.3">/</text><text transform="translate(766.86 893.18) scale(0.9706 0.9572)" font-size="33.3">s</text><text transform="translate(778.69 881.5) scale(0.7057 0.7207)" font-size="33.3">2</text><text transform="translate(790.27 896.08) scale(0.5873 1.2048)" font-size="33.3">]</text></g>
</g>
<g>
<line x1="1049.3" y1="830.5" x2="1049.3" y2="835.1" class="tk"/>
<text transform="translate(1049.3 855.2) scale(1 1.075)" class="tl" text-anchor="middle">0.2</text>
<line x1="1170.35" y1="830.5" x2="1170.35" y2="835.1" class="tk"/>
<text transform="translate(1170.35 855.2) scale(1 1.075)" class="tl" text-anchor="middle">0.3</text>
<line x1="1291.4" y1="830.5" x2="1291.4" y2="835.1" class="tk"/>
<text transform="translate(1291.4 855.2) scale(1 1.075)" class="tl" text-anchor="middle">0.4</text>
<line x1="986.8" y1="475.45" x2="991.4" y2="475.45" class="tk"/>
<line x1="986.8" y1="543.9" x2="991.4" y2="543.9" class="tk"/>
<line x1="986.8" y1="612.35" x2="991.4" y2="612.35" class="tk"/>
<line x1="986.8" y1="680.8" x2="991.4" y2="680.8" class="tk"/>
<line x1="986.8" y1="749.25" x2="991.4" y2="749.25" class="tk"/>
<line x1="986.8" y1="817.7" x2="991.4" y2="817.7" class="tk"/>
<circle cx="1229.25" cy="483.6" r="7.45" fill="#008000"/>
<circle cx="1261" cy="567.2" r="7.45" fill="#008000"/>
<circle cx="1322.5" cy="650.1" r="7.45" fill="#008000"/>
<circle cx="1355.5" cy="729.8" r="7.45" fill="#008000"/>
<circle cx="1011.9" cy="814.15" r="7.45" fill="#008000"/>
<polygon points="1237.5,502.2 1229.5,518.2 1245.5,518.2" fill="#008000"/>
<polygon points="1247.5,533.8 1239.5,549.8 1255.5,549.8" fill="#008000"/>
<polygon points="1279.25,587.4 1271.25,603.4 1287.25,603.4" fill="#008000"/>
<polygon points="1299.25,614.5 1291.25,630.5 1307.25,630.5" fill="#008000"/>
<polygon points="1346.25,668.7 1338.25,684.7 1354.25,684.7" fill="#008000"/>
<polygon points="1362.5,697 1354.5,713 1370.5,713" fill="#008000"/>
<polygon points="1300,749.8 1292,765.8 1308,765.8" fill="#008000"/>
<polygon points="1170.8,778.6 1162.8,794.6 1178.8,794.6" fill="#008000"/>
<polyline points="1236.44,483.6 1253.63,510.4 1254.48,542 1254.24,567.2 1271.91,595.6 1294.06,622.7 1315.85,650.1 1337.52,676.9 1359.31,705.2 1364.03,729.8 1317.18,758 1201.94,786.8 1008.87,814.15" class="ln"/>
<circle cx="1236.44" cy="483.6" r="4.6" fill="#000"/>
<circle cx="1253.63" cy="510.4" r="4.6" fill="#000"/>
<circle cx="1254.48" cy="542" r="4.6" fill="#000"/>
<circle cx="1254.24" cy="567.2" r="4.6" fill="#000"/>
<circle cx="1271.91" cy="595.6" r="4.6" fill="#000"/>
<circle cx="1294.06" cy="622.7" r="4.6" fill="#000"/>
<circle cx="1315.85" cy="650.1" r="4.6" fill="#000"/>
<circle cx="1337.52" cy="676.9" r="4.6" fill="#000"/>
<circle cx="1359.31" cy="705.2" r="4.6" fill="#000"/>
<circle cx="1364.03" cy="729.8" r="4.6" fill="#000"/>
<circle cx="1317.18" cy="758" r="4.6" fill="#000"/>
<circle cx="1201.94" cy="786.8" r="4.6" fill="#000"/>
<circle cx="1008.87" cy="814.15" r="4.6" fill="#000"/>
<circle cx="1236.75" cy="483.6" r="7.45" fill="#ff0000"/>
<circle cx="1254.75" cy="567.2" r="7.45" fill="#ff0000"/>
<circle cx="1316" cy="650.1" r="7.45" fill="#ff0000"/>
<circle cx="1364" cy="729.8" r="7.45" fill="#ff0000"/>
<circle cx="1009.2" cy="814.15" r="7.45" fill="#ff0000"/>
<polygon points="1238,502.2 1230,518.2 1246,518.2" fill="#ff0000"/>
<polygon points="1244.25,533.8 1236.25,549.8 1252.25,549.8" fill="#ff0000"/>
<polygon points="1271.75,587.4 1263.75,603.4 1279.75,603.4" fill="#ff0000"/>
<polygon points="1293,614.5 1285,630.5 1301,630.5" fill="#ff0000"/>
<polygon points="1338,668.7 1330,684.7 1346,684.7" fill="#ff0000"/>
<polygon points="1357.5,697 1349.5,713 1365.5,713" fill="#ff0000"/>
<polygon points="1339.2,749.8 1331.2,765.8 1347.2,765.8" fill="#ff0000"/>
<polygon points="1235.7,778.6 1227.7,794.6 1243.7,794.6" fill="#ff0000"/>
<polygon points="1238.75,499.4 1245.35,510.4 1238.75,521.4 1232.15,510.4" fill="#ffa500"/>
<polygon points="1245.5,531 1252.1,542 1245.5,553 1238.9,542" fill="#ffa500"/>
<polygon points="1269.75,584.6 1276.35,595.6 1269.75,606.6 1263.15,595.6" fill="#ffa500"/>
<polygon points="1289.75,611.7 1296.35,622.7 1289.75,633.7 1283.15,622.7" fill="#ffa500"/>
<polygon points="1346.25,665.9 1352.85,676.9 1346.25,687.9 1339.65,676.9" fill="#ffa500"/>
<polygon points="1368,694.2 1374.6,705.2 1368,716.2 1361.4,705.2" fill="#ffa500"/>
<polygon points="1315,747 1321.6,758 1315,769 1308.4,758" fill="#ffa500"/>
<polygon points="1200.8,775.8 1207.4,786.8 1200.8,797.8 1194.2,786.8" fill="#ffa500"/>
<rect x="991.4" y="467" width="395" height="363.5" class="fr"/>
<rect x="1124.9" y="864" width="27.6" height="1.6" fill="#000"/>
<g><text transform="translate(1125.1 893.08) scale(0.9987 0.9520)" font-size="33.3" class="it">v</text><text transform="translate(1141.04 883.6) scale(0.7057 0.7117)" font-size="33.3">2 </text><text transform="translate(1164.82 896.08) scale(0.5939 1.2048)" font-size="33.3">[</text><text transform="translate(1171.17 893.1) scale(0.9504 0.9328)" font-size="33.3">m</text><text transform="translate(1195.13 881.5) scale(0.7132 0.7207)" font-size="33.3">2</text><text transform="translate(1208 901) scale(1.3527 1.4925)" font-size="33.3">/</text><text transform="translate(1221.11 893.18) scale(0.9706 0.9572)" font-size="33.3">s</text><text transform="translate(1232.94 881.5) scale(0.7057 0.7207)" font-size="33.3">2</text><text transform="translate(1244.52 896.08) scale(0.5873 1.2048)" font-size="33.3">]</text></g>
</g>
<g>
<line x1="1504.2" y1="830.5" x2="1504.2" y2="835.1" class="tk"/>
<g><text transform="translate(1478.2 856.37) scale(1.3313 1.0476)" font-size="21">−</text><text transform="translate(1531.1 855.2) scale(1 1.075)" class="tl" text-anchor="end">0.20</text></g>
<line x1="1572.1" y1="830.5" x2="1572.1" y2="835.1" class="tk"/>
<g><text transform="translate(1546.1 856.37) scale(1.3313 1.0476)" font-size="21">−</text><text transform="translate(1599 855.2) scale(1 1.075)" class="tl" text-anchor="end">0.15</text></g>
<line x1="1640" y1="830.5" x2="1640" y2="835.1" class="tk"/>
<g><text transform="translate(1614 856.37) scale(1.3313 1.0476)" font-size="21">−</text><text transform="translate(1666.9 855.2) scale(1 1.075)" class="tl" text-anchor="end">0.10</text></g>
<line x1="1707.9" y1="830.5" x2="1707.9" y2="835.1" class="tk"/>
<g><text transform="translate(1681.9 856.37) scale(1.3313 1.0476)" font-size="21">−</text><text transform="translate(1734.8 855.2) scale(1 1.075)" class="tl" text-anchor="end">0.05</text></g>
<line x1="1775.8" y1="830.5" x2="1775.8" y2="835.1" class="tk"/>
<text transform="translate(1775.8 855.2) scale(1 1.075)" class="tl" text-anchor="middle">0.00</text>
<line x1="1440.9" y1="475.45" x2="1445.5" y2="475.45" class="tk"/>
<line x1="1440.9" y1="543.9" x2="1445.5" y2="543.9" class="tk"/>
<line x1="1440.9" y1="612.35" x2="1445.5" y2="612.35" class="tk"/>
<line x1="1440.9" y1="680.8" x2="1445.5" y2="680.8" class="tk"/>
<line x1="1440.9" y1="749.25" x2="1445.5" y2="749.25" class="tk"/>
<line x1="1440.9" y1="817.7" x2="1445.5" y2="817.7" class="tk"/>
<circle cx="1822.75" cy="483.6" r="7.45" fill="#008000"/>
<circle cx="1737.25" cy="567.2" r="7.45" fill="#008000"/>
<circle cx="1601" cy="650.1" r="7.45" fill="#008000"/>
<circle cx="1463.5" cy="729.8" r="7.45" fill="#008000"/>
<circle cx="1611.9" cy="814.15" r="7.45" fill="#008000"/>
<polygon points="1799,502.2 1791,518.2 1807,518.2" fill="#008000"/>
<polygon points="1767.75,533.8 1759.75,549.8 1775.75,549.8" fill="#008000"/>
<polygon points="1697.25,587.4 1689.25,603.4 1705.25,603.4" fill="#008000"/>
<polygon points="1650.25,614.5 1642.25,630.5 1658.25,630.5" fill="#008000"/>
<polygon points="1544.75,668.7 1536.75,684.7 1552.75,684.7" fill="#008000"/>
<polygon points="1491.5,697 1483.5,713 1499.5,713" fill="#008000"/>
<polygon points="1475.5,749.8 1467.5,765.8 1483.5,765.8" fill="#008000"/>
<polygon points="1539.8,778.6 1531.8,794.6 1547.8,794.6" fill="#008000"/>
<polyline points="1809.75,483.6 1800.65,510.4 1784.76,542 1755.43,567.2 1721.21,595.6 1678.02,622.7 1595.59,650.1 1536.93,676.9 1491.57,705.2 1463.46,729.8 1497.55,758 1549.83,786.8 1612.16,814.15" class="ln"/>
<circle cx="1809.75" cy="483.6" r="4.6" fill="#000"/>
<circle cx="1800.65" cy="510.4" r="4.6" fill="#000"/>
<circle cx="1784.76" cy="542" r="4.6" fill="#000"/>
<circle cx="1755.43" cy="567.2" r="4.6" fill="#000"/>
<circle cx="1721.21" cy="595.6" r="4.6" fill="#000"/>
<circle cx="1678.02" cy="622.7" r="4.6" fill="#000"/>
<circle cx="1595.59" cy="650.1" r="4.6" fill="#000"/>
<circle cx="1536.93" cy="676.9" r="4.6" fill="#000"/>
<circle cx="1491.57" cy="705.2" r="4.6" fill="#000"/>
<circle cx="1463.46" cy="729.8" r="4.6" fill="#000"/>
<circle cx="1497.55" cy="758" r="4.6" fill="#000"/>
<circle cx="1549.83" cy="786.8" r="4.6" fill="#000"/>
<circle cx="1612.16" cy="814.15" r="4.6" fill="#000"/>
<circle cx="1809.5" cy="483.6" r="7.45" fill="#ff0000"/>
<circle cx="1755.75" cy="567.2" r="7.45" fill="#ff0000"/>
<circle cx="1595.25" cy="650.1" r="7.45" fill="#ff0000"/>
<circle cx="1463.5" cy="729.8" r="7.45" fill="#ff0000"/>
<circle cx="1611.9" cy="814.15" r="7.45" fill="#ff0000"/>
<polygon points="1799,502.2 1791,518.2 1807,518.2" fill="#ff0000"/>
<polygon points="1780.25,533.8 1772.25,549.8 1788.25,549.8" fill="#ff0000"/>
<polygon points="1715.25,587.4 1707.25,603.4 1723.25,603.4" fill="#ff0000"/>
<polygon points="1660.25,614.5 1652.25,630.5 1668.25,630.5" fill="#ff0000"/>
<polygon points="1530.25,668.7 1522.25,684.7 1538.25,684.7" fill="#ff0000"/>
<polygon points="1479,697 1471,713 1487,713" fill="#ff0000"/>
<polygon points="1485.5,749.8 1477.5,765.8 1493.5,765.8" fill="#ff0000"/>
<polygon points="1547,778.6 1539,794.6 1555,794.6" fill="#ff0000"/>
<polygon points="1810.25,499.4 1816.85,510.4 1810.25,521.4 1803.65,510.4" fill="#ffa500"/>
<polygon points="1788.25,531 1794.85,542 1788.25,553 1781.65,542" fill="#ffa500"/>
<polygon points="1707,584.6 1713.6,595.6 1707,606.6 1700.4,595.6" fill="#ffa500"/>
<polygon points="1652.75,611.7 1659.35,622.7 1652.75,633.7 1646.15,622.7" fill="#ffa500"/>
<polygon points="1537.75,665.9 1544.35,676.9 1537.75,687.9 1531.15,676.9" fill="#ffa500"/>
<polygon points="1488.25,694.2 1494.85,705.2 1488.25,716.2 1481.65,705.2" fill="#ffa500"/>
<polygon points="1465.6,747 1472.2,758 1465.6,769 1459,758" fill="#ffa500"/>
<polygon points="1512.7,775.8 1519.3,786.8 1512.7,797.8 1506.1,786.8" fill="#ffa500"/>
<rect x="1445.5" y="467" width="395" height="363.5" class="fr"/>
<rect x="1575.1" y="871" width="35" height="1.6" fill="#000"/>
<g><text transform="translate(1574.16 890.71) scale(1.1073 0.9470)" font-size="33.3" class="it" stroke="#fff" stroke-width="0.3">uv </text><text transform="translate(1621.52 893.78) scale(0.5939 1.2048)" font-size="33.3">[</text><text transform="translate(1627.87 890.8) scale(0.9504 0.9328)" font-size="33.3">m</text><text transform="translate(1651.83 879.2) scale(0.7132 0.7207)" font-size="33.3">2</text><text transform="translate(1664.7 898.7) scale(1.3527 1.4925)" font-size="33.3">/</text><text transform="translate(1677.81 890.88) scale(0.9706 0.9572)" font-size="33.3">s</text><text transform="translate(1689.64 879.2) scale(0.7057 0.7207)" font-size="33.3">2</text><text transform="translate(1701.22 893.78) scale(0.5873 1.2048)" font-size="33.3">]</text></g>
</g>
<g>
<line x1="138.9" y1="1288" x2="138.9" y2="1292.6" class="tk"/>
<text transform="translate(138.9 1312.7) scale(1 1.075)" class="tl" text-anchor="middle">4</text>
<line x1="206.24" y1="1288" x2="206.24" y2="1292.6" class="tk"/>
<text transform="translate(206.24 1312.7) scale(1 1.075)" class="tl" text-anchor="middle">5</text>
<line x1="273.58" y1="1288" x2="273.58" y2="1292.6" class="tk"/>
<text transform="translate(273.58 1312.7) scale(1 1.075)" class="tl" text-anchor="middle">6</text>
<line x1="340.92" y1="1288" x2="340.92" y2="1292.6" class="tk"/>
<text transform="translate(340.92 1312.7) scale(1 1.075)" class="tl" text-anchor="middle">7</text>
<line x1="408.26" y1="1288" x2="408.26" y2="1292.6" class="tk"/>
<text transform="translate(408.26 1312.7) scale(1 1.075)" class="tl" text-anchor="middle">8</text>
<line x1="475.6" y1="1288" x2="475.6" y2="1292.6" class="tk"/>
<text transform="translate(475.6 1312.7) scale(1 1.075)" class="tl" text-anchor="middle">9</text>
<line x1="77.9" y1="932.95" x2="82.5" y2="932.95" class="tk"/>
<text transform="translate(73.5 940.95) scale(1 1.075)" class="tl" text-anchor="end">0.5</text>
<line x1="77.9" y1="1001.4" x2="82.5" y2="1001.4" class="tk"/>
<text transform="translate(73.5 1009.4) scale(1 1.075)" class="tl" text-anchor="end">0.4</text>
<line x1="77.9" y1="1069.85" x2="82.5" y2="1069.85" class="tk"/>
<text transform="translate(73.5 1077.85) scale(1 1.075)" class="tl" text-anchor="end">0.3</text>
<line x1="77.9" y1="1138.3" x2="82.5" y2="1138.3" class="tk"/>
<text transform="translate(73.5 1146.3) scale(1 1.075)" class="tl" text-anchor="end">0.2</text>
<line x1="77.9" y1="1206.75" x2="82.5" y2="1206.75" class="tk"/>
<text transform="translate(73.5 1214.75) scale(1 1.075)" class="tl" text-anchor="end">0.1</text>
<line x1="77.9" y1="1275.2" x2="82.5" y2="1275.2" class="tk"/>
<text transform="translate(73.5 1283.2) scale(1 1.075)" class="tl" text-anchor="end">0.0</text>
<polygon points="433.75,959.7 425.75,975.7 441.75,975.7" fill="#008000"/>
<polygon points="434.25,991.3 426.25,1007.3 442.25,1007.3" fill="#008000"/>
<polygon points="433.5,1016.5 425.5,1032.5 441.5,1032.5" fill="#008000"/>
<polygon points="431.5,1044.9 423.5,1060.9 439.5,1060.9" fill="#008000"/>
<polygon points="426,1072 418,1088 434,1088" fill="#008000"/>
<polygon points="388.75,1126.2 380.75,1142.2 396.75,1142.2" fill="#008000"/>
<polygon points="340.75,1154.5 332.75,1170.5 348.75,1170.5" fill="#008000"/>
<polygon points="281.25,1179.1 273.25,1195.1 289.25,1195.1" fill="#008000"/>
<polygon points="206.7,1207.3 198.7,1223.3 214.7,1223.3" fill="#008000"/>
<polygon points="144.5,1236.1 136.5,1252.1 152.5,1252.1" fill="#008000"/>
<polyline points="432.64,941.1 436.88,967.9 438.36,999.5 437.69,1024.7 434.52,1053.1 423.07,1080.2 411.96,1107.6 392.44,1134.4 368.53,1162.7 343.28,1187.3 317.35,1215.5 283.82,1244.3 100.72,1271.65" class="ln"/>
<circle cx="432.64" cy="941.1" r="4.6" fill="#000"/>
<circle cx="436.88" cy="967.9" r="4.6" fill="#000"/>
<circle cx="438.36" cy="999.5" r="4.6" fill="#000"/>
<circle cx="437.69" cy="1024.7" r="4.6" fill="#000"/>
<circle cx="434.52" cy="1053.1" r="4.6" fill="#000"/>
<circle cx="423.07" cy="1080.2" r="4.6" fill="#000"/>
<circle cx="411.96" cy="1107.6" r="4.6" fill="#000"/>
<circle cx="392.44" cy="1134.4" r="4.6" fill="#000"/>
<circle cx="368.53" cy="1162.7" r="4.6" fill="#000"/>
<circle cx="343.28" cy="1187.3" r="4.6" fill="#000"/>
<circle cx="317.35" cy="1215.5" r="4.6" fill="#000"/>
<circle cx="283.82" cy="1244.3" r="4.6" fill="#000"/>
<circle cx="100.72" cy="1271.65" r="4.6" fill="#000"/>
<circle cx="432.5" cy="941.1" r="7.45" fill="#ff0000"/>
<circle cx="412.5" cy="1107.6" r="7.45" fill="#ff0000"/>
<circle cx="100.7" cy="1271.65" r="7.45" fill="#ff0000"/>
<polygon points="433.75,959.7 425.75,975.7 441.75,975.7" fill="#ff0000"/>
<polygon points="434.25,991.3 426.25,1007.3 442.25,1007.3" fill="#ff0000"/>
<polygon points="433.5,1016.5 425.5,1032.5 441.5,1032.5" fill="#ff0000"/>
<polygon points="430.5,1044.9 422.5,1060.9 438.5,1060.9" fill="#ff0000"/>
<polygon points="424,1072 416,1088 432,1088" fill="#ff0000"/>
<polygon points="392.75,1126.2 384.75,1142.2 400.75,1142.2" fill="#ff0000"/>
<polygon points="359.25,1154.5 351.25,1170.5 367.25,1170.5" fill="#ff0000"/>
<polygon points="316,1179.1 308,1195.1 324,1195.1" fill="#ff0000"/>
<polygon points="249.3,1207.3 241.3,1223.3 257.3,1223.3" fill="#ff0000"/>
<polygon points="172.1,1236.1 164.1,1252.1 180.1,1252.1" fill="#ff0000"/>
<polygon points="449.5,956.9 456.1,967.9 449.5,978.9 442.9,967.9" fill="#ffa500"/>
<polygon points="459.5,988.5 466.1,999.5 459.5,1010.5 452.9,999.5" fill="#ffa500"/>
<polygon points="459.5,1013.7 466.1,1024.7 459.5,1035.7 452.9,1024.7" fill="#ffa500"/>
<polygon points="451.5,1042.1 458.1,1053.1 451.5,1064.1 444.9,1053.1" fill="#ffa500"/>
<polygon points="435.75,1069.2 442.35,1080.2 435.75,1091.2 429.15,1080.2" fill="#ffa500"/>
<polygon points="380.75,1123.4 387.35,1134.4 380.75,1145.4 374.15,1134.4" fill="#ffa500"/>
<polygon points="339.25,1151.7 345.85,1162.7 339.25,1173.7 332.65,1162.7" fill="#ffa500"/>
<polygon points="296.75,1176.3 303.35,1187.3 296.75,1198.3 290.15,1187.3" fill="#ffa500"/>
<polygon points="239.3,1204.5 245.9,1215.5 239.3,1226.5 232.7,1215.5" fill="#ffa500"/>
<polygon points="173.1,1233.3 179.7,1244.3 173.1,1255.3 166.5,1244.3" fill="#ffa500"/>
<rect x="82.5" y="924.5" width="395" height="363.5" class="fr"/>
<g><text transform="translate(227.15 1346.24) scale(0.9900 1.0702)" font-size="33.3" class="it">U </text><text transform="translate(265.32 1348.78) scale(0.5939 1.2048)" font-size="33.3">[</text><text transform="translate(271.67 1345.8) scale(0.9504 0.9328)" font-size="33.3">m</text><text transform="translate(298.2 1353.7) scale(1.3202 1.4925)" font-size="33.3">/</text><text transform="translate(310.59 1345.88) scale(1.0571 0.9572)" font-size="33.3">s</text><text transform="translate(323.52 1348.78) scale(0.5873 1.2048)" font-size="33.3">]</text></g>
<g><text transform="translate(33.8 1106.25) rotate(-90) translate(-30.62 0.05) scale(0.8312 0.9565)" font-size="33.3" class="it">y </text><text transform="translate(33.8 1106.25) rotate(-90) translate(-5.45 2.98) scale(0.6613 1.2048)" font-size="33.3">[</text><text transform="translate(33.8 1106.25) rotate(-90) translate(1.58 0) scale(0.9383 0.9328)" font-size="33.3">m</text><text transform="translate(33.8 1106.25) rotate(-90) translate(25.54 2.98) scale(0.6540 1.2048)" font-size="33.3">]</text></g>
</g>
<g>
<line x1="551.7" y1="1288" x2="551.7" y2="1292.6" class="tk"/>
<text transform="translate(551.7 1312.7) scale(1 1.075)" class="tl" text-anchor="middle">0.4</text>
<line x1="673.23" y1="1288" x2="673.23" y2="1292.6" class="tk"/>
<text transform="translate(673.23 1312.7) scale(1 1.075)" class="tl" text-anchor="middle">0.6</text>
<line x1="794.77" y1="1288" x2="794.77" y2="1292.6" class="tk"/>
<text transform="translate(794.77 1312.7) scale(1 1.075)" class="tl" text-anchor="middle">0.8</text>
<line x1="916.3" y1="1288" x2="916.3" y2="1292.6" class="tk"/>
<text transform="translate(916.3 1312.7) scale(1 1.075)" class="tl" text-anchor="middle">1.0</text>
<line x1="532.55" y1="932.95" x2="537.15" y2="932.95" class="tk"/>
<line x1="532.55" y1="1001.4" x2="537.15" y2="1001.4" class="tk"/>
<line x1="532.55" y1="1069.85" x2="537.15" y2="1069.85" class="tk"/>
<line x1="532.55" y1="1138.3" x2="537.15" y2="1138.3" class="tk"/>
<line x1="532.55" y1="1206.75" x2="537.15" y2="1206.75" class="tk"/>
<line x1="532.55" y1="1275.2" x2="537.15" y2="1275.2" class="tk"/>
<polygon points="564.75,959.7 556.75,975.7 572.75,975.7" fill="#008000"/>
<polygon points="579.75,991.3 571.75,1007.3 587.75,1007.3" fill="#008000"/>
<polygon points="597,1016.5 589,1032.5 605,1032.5" fill="#008000"/>
<polygon points="621,1044.9 613,1060.9 629,1060.9" fill="#008000"/>
<polygon points="649.5,1072 641.5,1088 657.5,1088" fill="#008000"/>
<polygon points="720.75,1126.2 712.75,1142.2 728.75,1142.2" fill="#008000"/>
<polygon points="771.75,1154.5 763.75,1170.5 779.75,1170.5" fill="#008000"/>
<polygon points="828.25,1179.1 820.25,1195.1 836.25,1195.1" fill="#008000"/>
<polygon points="876.2,1207.3 868.2,1223.3 884.2,1223.3" fill="#008000"/>
<polygon points="896.6,1236.1 888.6,1252.1 904.6,1252.1" fill="#008000"/>
<polyline points="556.74,941.1 554.74,967.9 556.87,999.5 565.74,1024.7 583.24,1053.1 617.75,1080.2 682.77,1107.6 740.75,1134.4 814.27,1162.7 864.04,1187.3 887.8,1215.5 900.8,1244.3 913.81,1271.65" class="ln"/>
<circle cx="556.74" cy="941.1" r="4.6" fill="#000"/>
<circle cx="554.74" cy="967.9" r="4.6" fill="#000"/>
<circle cx="556.87" cy="999.5" r="4.6" fill="#000"/>
<circle cx="565.74" cy="1024.7" r="4.6" fill="#000"/>
<circle cx="583.24" cy="1053.1" r="4.6" fill="#000"/>
<circle cx="617.75" cy="1080.2" r="4.6" fill="#000"/>
<circle cx="682.77" cy="1107.6" r="4.6" fill="#000"/>
<circle cx="740.75" cy="1134.4" r="4.6" fill="#000"/>
<circle cx="814.27" cy="1162.7" r="4.6" fill="#000"/>
<circle cx="864.04" cy="1187.3" r="4.6" fill="#000"/>
<circle cx="887.8" cy="1215.5" r="4.6" fill="#000"/>
<circle cx="900.8" cy="1244.3" r="4.6" fill="#000"/>
<circle cx="913.81" cy="1271.65" r="4.6" fill="#000"/>
<circle cx="556.75" cy="941.1" r="7.45" fill="#ff0000"/>
<circle cx="682.75" cy="1107.6" r="7.45" fill="#ff0000"/>
<circle cx="913.8" cy="1271.65" r="7.45" fill="#ff0000"/>
<polygon points="576,959.7 568,975.7 584,975.7" fill="#ff0000"/>
<polygon points="597.75,991.3 589.75,1007.3 605.75,1007.3" fill="#ff0000"/>
<polygon points="617.25,1016.5 609.25,1032.5 625.25,1032.5" fill="#ff0000"/>
<polygon points="639.5,1044.9 631.5,1060.9 647.5,1060.9" fill="#ff0000"/>
<polygon points="661.5,1072 653.5,1088 669.5,1088" fill="#ff0000"/>
<polygon points="706,1126.2 698,1142.2 714,1142.2" fill="#ff0000"/>
<polygon points="735.75,1154.5 727.75,1170.5 743.75,1170.5" fill="#ff0000"/>
<polygon points="767.25,1179.1 759.25,1195.1 775.25,1195.1" fill="#ff0000"/>
<polygon points="813,1207.3 805,1223.3 821,1223.3" fill="#ff0000"/>
<polygon points="864.9,1236.1 856.9,1252.1 872.9,1252.1" fill="#ff0000"/>
<polygon points="569.75,956.9 576.35,967.9 569.75,978.9 563.15,967.9" fill="#ffa500"/>
<polygon points="588.25,988.5 594.85,999.5 588.25,1010.5 581.65,999.5" fill="#ffa500"/>
<polygon points="606.25,1013.7 612.85,1024.7 606.25,1035.7 599.65,1024.7" fill="#ffa500"/>
<polygon points="629.25,1042.1 635.85,1053.1 629.25,1064.1 622.65,1053.1" fill="#ffa500"/>
<polygon points="654.5,1069.2 661.1,1080.2 654.5,1091.2 647.9,1080.2" fill="#ffa500"/>
<polygon points="713.25,1123.4 719.85,1134.4 713.25,1145.4 706.65,1134.4" fill="#ffa500"/>
<polygon points="748.5,1151.7 755.1,1162.7 748.5,1173.7 741.9,1162.7" fill="#ffa500"/>
<polygon points="781.5,1176.3 788.1,1187.3 781.5,1198.3 774.9,1187.3" fill="#ffa500"/>
<polygon points="823.1,1204.5 829.7,1215.5 823.1,1226.5 816.5,1215.5" fill="#ffa500"/>
<polygon points="867.5,1233.3 874.1,1244.3 867.5,1255.3 860.9,1244.3" fill="#ffa500"/>
<rect x="537.15" y="924.5" width="395" height="363.5" class="fr"/>
<rect x="669.65" y="1321" width="29.7" height="1.6" fill="#000"/>
<g><text transform="translate(668.73 1350.51) scale(1.2158 0.9470)" font-size="33.3" class="it" stroke="#fff" stroke-width="0.3">u</text><text transform="translate(687.48 1341.1) scale(0.7132 0.7117)" font-size="33.3">2 </text><text transform="translate(710.57 1353.58) scale(0.5939 1.2048)" font-size="33.3">[</text><text transform="translate(716.92 1350.6) scale(0.9504 0.9328)" font-size="33.3">m</text><text transform="translate(740.88 1339) scale(0.7132 0.7207)" font-size="33.3">2</text><text transform="translate(753.75 1358.5) scale(1.3527 1.4925)" font-size="33.3">/</text><text transform="translate(766.86 1350.68) scale(0.9706 0.9572)" font-size="33.3">s</text><text transform="translate(778.69 1339) scale(0.7057 0.7207)" font-size="33.3">2</text><text transform="translate(790.27 1353.58) scale(0.5873 1.2048)" font-size="33.3">]</text></g>
</g>
<g>
<line x1="1042.9" y1="1288" x2="1042.9" y2="1292.6" class="tk"/>
<text transform="translate(1042.9 1312.7) scale(1 1.075)" class="tl" text-anchor="middle">0.1</text>
<line x1="1133.3" y1="1288" x2="1133.3" y2="1292.6" class="tk"/>
<text transform="translate(1133.3 1312.7) scale(1 1.075)" class="tl" text-anchor="middle">0.2</text>
<line x1="1223.7" y1="1288" x2="1223.7" y2="1292.6" class="tk"/>
<text transform="translate(1223.7 1312.7) scale(1 1.075)" class="tl" text-anchor="middle">0.3</text>
<line x1="1314.1" y1="1288" x2="1314.1" y2="1292.6" class="tk"/>
<text transform="translate(1314.1 1312.7) scale(1 1.075)" class="tl" text-anchor="middle">0.4</text>
<line x1="986.8" y1="932.95" x2="991.4" y2="932.95" class="tk"/>
<line x1="986.8" y1="1001.4" x2="991.4" y2="1001.4" class="tk"/>
<line x1="986.8" y1="1069.85" x2="991.4" y2="1069.85" class="tk"/>
<line x1="986.8" y1="1138.3" x2="991.4" y2="1138.3" class="tk"/>
<line x1="986.8" y1="1206.75" x2="991.4" y2="1206.75" class="tk"/>
<line x1="986.8" y1="1275.2" x2="991.4" y2="1275.2" class="tk"/>
<polygon points="1281.75,959.7 1273.75,975.7 1289.75,975.7" fill="#008000"/>
<polygon points="1295.5,991.3 1287.5,1007.3 1303.5,1007.3" fill="#008000"/>
<polygon points="1307.25,1016.5 1299.25,1032.5 1315.25,1032.5" fill="#008000"/>
<polygon points="1321.25,1044.9 1313.25,1060.9 1329.25,1060.9" fill="#008000"/>
<polygon points="1331.25,1072 1323.25,1088 1339.25,1088" fill="#008000"/>
<polygon points="1304.25,1126.2 1296.25,1142.2 1312.25,1142.2" fill="#008000"/>
<polygon points="1215,1154.5 1207,1170.5 1223,1170.5" fill="#008000"/>
<polygon points="1097,1179.1 1089,1195.1 1105,1195.1" fill="#008000"/>
<polygon points="1009.2,1207.3 1001.2,1223.3 1017.2,1223.3" fill="#008000"/>
<polygon points="1029.8,1236.1 1021.8,1252.1 1037.8,1252.1" fill="#008000"/>
<polyline points="1273.06,941.1 1285.9,967.9 1286.53,999.5 1286.35,1024.7 1299.55,1053.1 1316.09,1080.2 1332.36,1107.6 1348.54,1134.4 1364.81,1162.7 1368.34,1187.3 1333.36,1215.5 1247.29,1244.3 1103.11,1271.65" class="ln"/>
<circle cx="1273.06" cy="941.1" r="4.6" fill="#000"/>
<circle cx="1285.9" cy="967.9" r="4.6" fill="#000"/>
<circle cx="1286.53" cy="999.5" r="4.6" fill="#000"/>
<circle cx="1286.35" cy="1024.7" r="4.6" fill="#000"/>
<circle cx="1299.55" cy="1053.1" r="4.6" fill="#000"/>
<circle cx="1316.09" cy="1080.2" r="4.6" fill="#000"/>
<circle cx="1332.36" cy="1107.6" r="4.6" fill="#000"/>
<circle cx="1348.54" cy="1134.4" r="4.6" fill="#000"/>
<circle cx="1364.81" cy="1162.7" r="4.6" fill="#000"/>
<circle cx="1368.34" cy="1187.3" r="4.6" fill="#000"/>
<circle cx="1333.36" cy="1215.5" r="4.6" fill="#000"/>
<circle cx="1247.29" cy="1244.3" r="4.6" fill="#000"/>
<circle cx="1103.11" cy="1271.65" r="4.6" fill="#000"/>
<circle cx="1273" cy="941.1" r="7.45" fill="#ff0000"/>
<circle cx="1332.25" cy="1107.6" r="7.45" fill="#ff0000"/>
<circle cx="1103.1" cy="1271.65" r="7.45" fill="#ff0000"/>
<polygon points="1286.25,959.7 1278.25,975.7 1294.25,975.7" fill="#ff0000"/>
<polygon points="1301,991.3 1293,1007.3 1309,1007.3" fill="#ff0000"/>
<polygon points="1312.25,1016.5 1304.25,1032.5 1320.25,1032.5" fill="#ff0000"/>
<polygon points="1322.5,1044.9 1314.5,1060.9 1330.5,1060.9" fill="#ff0000"/>
<polygon points="1330,1072 1322,1088 1338,1088" fill="#ff0000"/>
<polygon points="1325.5,1126.2 1317.5,1142.2 1333.5,1142.2" fill="#ff0000"/>
<polygon points="1302.75,1154.5 1294.75,1170.5 1310.75,1170.5" fill="#ff0000"/>
<polygon points="1267,1179.1 1259,1195.1 1275,1195.1" fill="#ff0000"/>
<polygon points="1207.6,1207.3 1199.6,1223.3 1215.6,1223.3" fill="#ff0000"/>
<polygon points="1146.4,1236.1 1138.4,1252.1 1154.4,1252.1" fill="#ff0000"/>
<polygon points="1302.5,956.9 1309.1,967.9 1302.5,978.9 1295.9,967.9" fill="#ffa500"/>
<polygon points="1327,988.5 1333.6,999.5 1327,1010.5 1320.4,999.5" fill="#ffa500"/>
<polygon points="1339.5,1013.7 1346.1,1024.7 1339.5,1035.7 1332.9,1024.7" fill="#ffa500"/>
<polygon points="1345.25,1042.1 1351.85,1053.1 1345.25,1064.1 1338.65,1053.1" fill="#ffa500"/>
<polygon points="1342.25,1069.2 1348.85,1080.2 1342.25,1091.2 1335.65,1080.2" fill="#ffa500"/>
<polygon points="1313.75,1123.4 1320.35,1134.4 1313.75,1145.4 1307.15,1134.4" fill="#ffa500"/>
<polygon points="1286.75,1151.7 1293.35,1162.7 1286.75,1173.7 1280.15,1162.7" fill="#ffa500"/>
<polygon points="1256.25,1176.3 1262.85,1187.3 1256.25,1198.3 1249.65,1187.3" fill="#ffa500"/>
<polygon points="1213.2,1204.5 1219.8,1215.5 1213.2,1226.5 1206.6,1215.5" fill="#ffa500"/>
<polygon points="1161.5,1233.3 1168.1,1244.3 1161.5,1255.3 1154.9,1244.3" fill="#ffa500"/>
<rect x="991.4" y="924.5" width="395" height="363.5" class="fr"/>
<rect x="1124.9" y="1321" width="27.6" height="1.6" fill="#000"/>
<g><text transform="translate(1125.1 1350.58) scale(0.9987 0.9520)" font-size="33.3" class="it">v</text><text transform="translate(1141.04 1341.1) scale(0.7057 0.7117)" font-size="33.3">2 </text><text transform="translate(1164.82 1353.58) scale(0.5939 1.2048)" font-size="33.3">[</text><text transform="translate(1171.17 1350.6) scale(0.9504 0.9328)" font-size="33.3">m</text><text transform="translate(1195.13 1339) scale(0.7132 0.7207)" font-size="33.3">2</text><text transform="translate(1208 1358.5) scale(1.3527 1.4925)" font-size="33.3">/</text><text transform="translate(1221.11 1350.68) scale(0.9706 0.9572)" font-size="33.3">s</text><text transform="translate(1232.94 1339) scale(0.7057 0.7207)" font-size="33.3">2</text><text transform="translate(1244.52 1353.58) scale(0.5873 1.2048)" font-size="33.3">]</text></g>
</g>
<g>
<line x1="1512.8" y1="1288" x2="1512.8" y2="1292.6" class="tk"/>
<g><text transform="translate(1486.8 1313.87) scale(1.3313 1.0476)" font-size="21">−</text><text transform="translate(1539.7 1312.7) scale(1 1.075)" class="tl" text-anchor="end">0.20</text></g>
<line x1="1581.62" y1="1288" x2="1581.62" y2="1292.6" class="tk"/>
<g><text transform="translate(1555.63 1313.87) scale(1.3313 1.0476)" font-size="21">−</text><text transform="translate(1608.53 1312.7) scale(1 1.075)" class="tl" text-anchor="end">0.15</text></g>
<line x1="1650.45" y1="1288" x2="1650.45" y2="1292.6" class="tk"/>
<g><text transform="translate(1624.45 1313.87) scale(1.3313 1.0476)" font-size="21">−</text><text transform="translate(1677.35 1312.7) scale(1 1.075)" class="tl" text-anchor="end">0.10</text></g>
<line x1="1719.27" y1="1288" x2="1719.27" y2="1292.6" class="tk"/>
<g><text transform="translate(1693.28 1313.87) scale(1.3313 1.0476)" font-size="21">−</text><text transform="translate(1746.17 1312.7) scale(1 1.075)" class="tl" text-anchor="end">0.05</text></g>
<line x1="1788.1" y1="1288" x2="1788.1" y2="1292.6" class="tk"/>
<text transform="translate(1788.1 1312.7) scale(1 1.075)" class="tl" text-anchor="middle">0.00</text>
<line x1="1440.9" y1="932.95" x2="1445.5" y2="932.95" class="tk"/>
<line x1="1440.9" y1="1001.4" x2="1445.5" y2="1001.4" class="tk"/>
<line x1="1440.9" y1="1069.85" x2="1445.5" y2="1069.85" class="tk"/>
<line x1="1440.9" y1="1138.3" x2="1445.5" y2="1138.3" class="tk"/>
<line x1="1440.9" y1="1206.75" x2="1445.5" y2="1206.75" class="tk"/>
<line x1="1440.9" y1="1275.2" x2="1445.5" y2="1275.2" class="tk"/>
<polygon points="1800.75,959.7 1792.75,975.7 1808.75,975.7" fill="#008000"/>
<polygon points="1770.75,991.3 1762.75,1007.3 1778.75,1007.3" fill="#008000"/>
<polygon points="1740.75,1016.5 1732.75,1032.5 1748.75,1032.5" fill="#008000"/>
<polygon points="1701,1044.9 1693,1060.9 1709,1060.9" fill="#008000"/>
<polygon points="1656,1072 1648,1088 1664,1088" fill="#008000"/>
<polygon points="1552.75,1126.2 1544.75,1142.2 1560.75,1142.2" fill="#008000"/>
<polygon points="1499,1154.5 1491,1170.5 1507,1170.5" fill="#008000"/>
<polygon points="1463.25,1179.1 1455.25,1195.1 1471.25,1195.1" fill="#008000"/>
<polygon points="1471.3,1207.3 1463.3,1223.3 1479.3,1223.3" fill="#008000"/>
<polygon points="1538.5,1236.1 1530.5,1252.1 1546.5,1252.1" fill="#008000"/>
<polyline points="1822.51,941.1 1813.29,967.9 1797.18,999.5 1767.45,1024.7 1732.76,1053.1 1688.99,1080.2 1605.44,1107.6 1545.97,1134.4 1500,1162.7 1471.5,1187.3 1506.06,1215.5 1559.05,1244.3 1622.23,1271.65" class="ln"/>
<circle cx="1822.51" cy="941.1" r="4.6" fill="#000"/>
<circle cx="1813.29" cy="967.9" r="4.6" fill="#000"/>
<circle cx="1797.18" cy="999.5" r="4.6" fill="#000"/>
<circle cx="1767.45" cy="1024.7" r="4.6" fill="#000"/>
<circle cx="1732.76" cy="1053.1" r="4.6" fill="#000"/>
<circle cx="1688.99" cy="1080.2" r="4.6" fill="#000"/>
<circle cx="1605.44" cy="1107.6" r="4.6" fill="#000"/>
<circle cx="1545.97" cy="1134.4" r="4.6" fill="#000"/>
<circle cx="1500" cy="1162.7" r="4.6" fill="#000"/>
<circle cx="1471.5" cy="1187.3" r="4.6" fill="#000"/>
<circle cx="1506.06" cy="1215.5" r="4.6" fill="#000"/>
<circle cx="1559.05" cy="1244.3" r="4.6" fill="#000"/>
<circle cx="1622.23" cy="1271.65" r="4.6" fill="#000"/>
<circle cx="1822.5" cy="941.1" r="7.45" fill="#ff0000"/>
<circle cx="1605.5" cy="1107.6" r="7.45" fill="#ff0000"/>
<circle cx="1622.2" cy="1271.65" r="7.45" fill="#ff0000"/>
<polygon points="1805.75,959.7 1797.75,975.7 1813.75,975.7" fill="#ff0000"/>
<polygon points="1777.75,991.3 1769.75,1007.3 1785.75,1007.3" fill="#ff0000"/>
<polygon points="1747.75,1016.5 1739.75,1032.5 1755.75,1032.5" fill="#ff0000"/>
<polygon points="1705.75,1044.9 1697.75,1060.9 1713.75,1060.9" fill="#ff0000"/>
<polygon points="1658.25,1072 1650.25,1088 1666.25,1088" fill="#ff0000"/>
<polygon points="1550.75,1126.2 1542.75,1142.2 1558.75,1142.2" fill="#ff0000"/>
<polygon points="1500.25,1154.5 1492.25,1170.5 1508.25,1170.5" fill="#ff0000"/>
<polygon points="1475.25,1179.1 1467.25,1195.1 1483.25,1195.1" fill="#ff0000"/>
<polygon points="1484.7,1207.3 1476.7,1223.3 1492.7,1223.3" fill="#ff0000"/>
<polygon points="1540.3,1236.1 1532.3,1252.1 1548.3,1252.1" fill="#ff0000"/>
<polygon points="1771,956.9 1777.6,967.9 1771,978.9 1764.4,967.9" fill="#ffa500"/>
<polygon points="1719.5,988.5 1726.1,999.5 1719.5,1010.5 1712.9,999.5" fill="#ffa500"/>
<polygon points="1683.5,1013.7 1690.1,1024.7 1683.5,1035.7 1676.9,1024.7" fill="#ffa500"/>
<polygon points="1650,1042.1 1656.6,1053.1 1650,1064.1 1643.4,1053.1" fill="#ffa500"/>
<polygon points="1624.25,1069.2 1630.85,1080.2 1624.25,1091.2 1617.65,1080.2" fill="#ffa500"/>
<polygon points="1592.5,1123.4 1599.1,1134.4 1592.5,1145.4 1585.9,1134.4" fill="#ffa500"/>
<polygon points="1585.5,1151.7 1592.1,1162.7 1585.5,1173.7 1578.9,1162.7" fill="#ffa500"/>
<polygon points="1585,1176.3 1591.6,1187.3 1585,1198.3 1578.4,1187.3" fill="#ffa500"/>
<polygon points="1590.7,1204.5 1597.3,1215.5 1590.7,1226.5 1584.1,1215.5" fill="#ffa500"/>
<polygon points="1603.5,1233.3 1610.1,1244.3 1603.5,1255.3 1596.9,1244.3" fill="#ffa500"/>
<rect x="1445.5" y="924.5" width="395" height="363.5" class="fr"/>
<rect x="1575.1" y="1328" width="35" height="1.6" fill="#000"/>
<g><text transform="translate(1574.16 1348.21) scale(1.1073 0.9470)" font-size="33.3" class="it" stroke="#fff" stroke-width="0.3">uv </text><text transform="translate(1621.52 1351.28) scale(0.5939 1.2048)" font-size="33.3">[</text><text transform="translate(1627.87 1348.3) scale(0.9504 0.9328)" font-size="33.3">m</text><text transform="translate(1651.83 1336.7) scale(0.7132 0.7207)" font-size="33.3">2</text><text transform="translate(1664.7 1356.2) scale(1.3527 1.4925)" font-size="33.3">/</text><text transform="translate(1677.81 1348.38) scale(0.9706 0.9572)" font-size="33.3">s</text><text transform="translate(1689.64 1336.7) scale(0.7057 0.7207)" font-size="33.3">2</text><text transform="translate(1701.22 1351.28) scale(0.5873 1.2048)" font-size="33.3">]</text></g>
</g>
</svg>
</body>
</html>
